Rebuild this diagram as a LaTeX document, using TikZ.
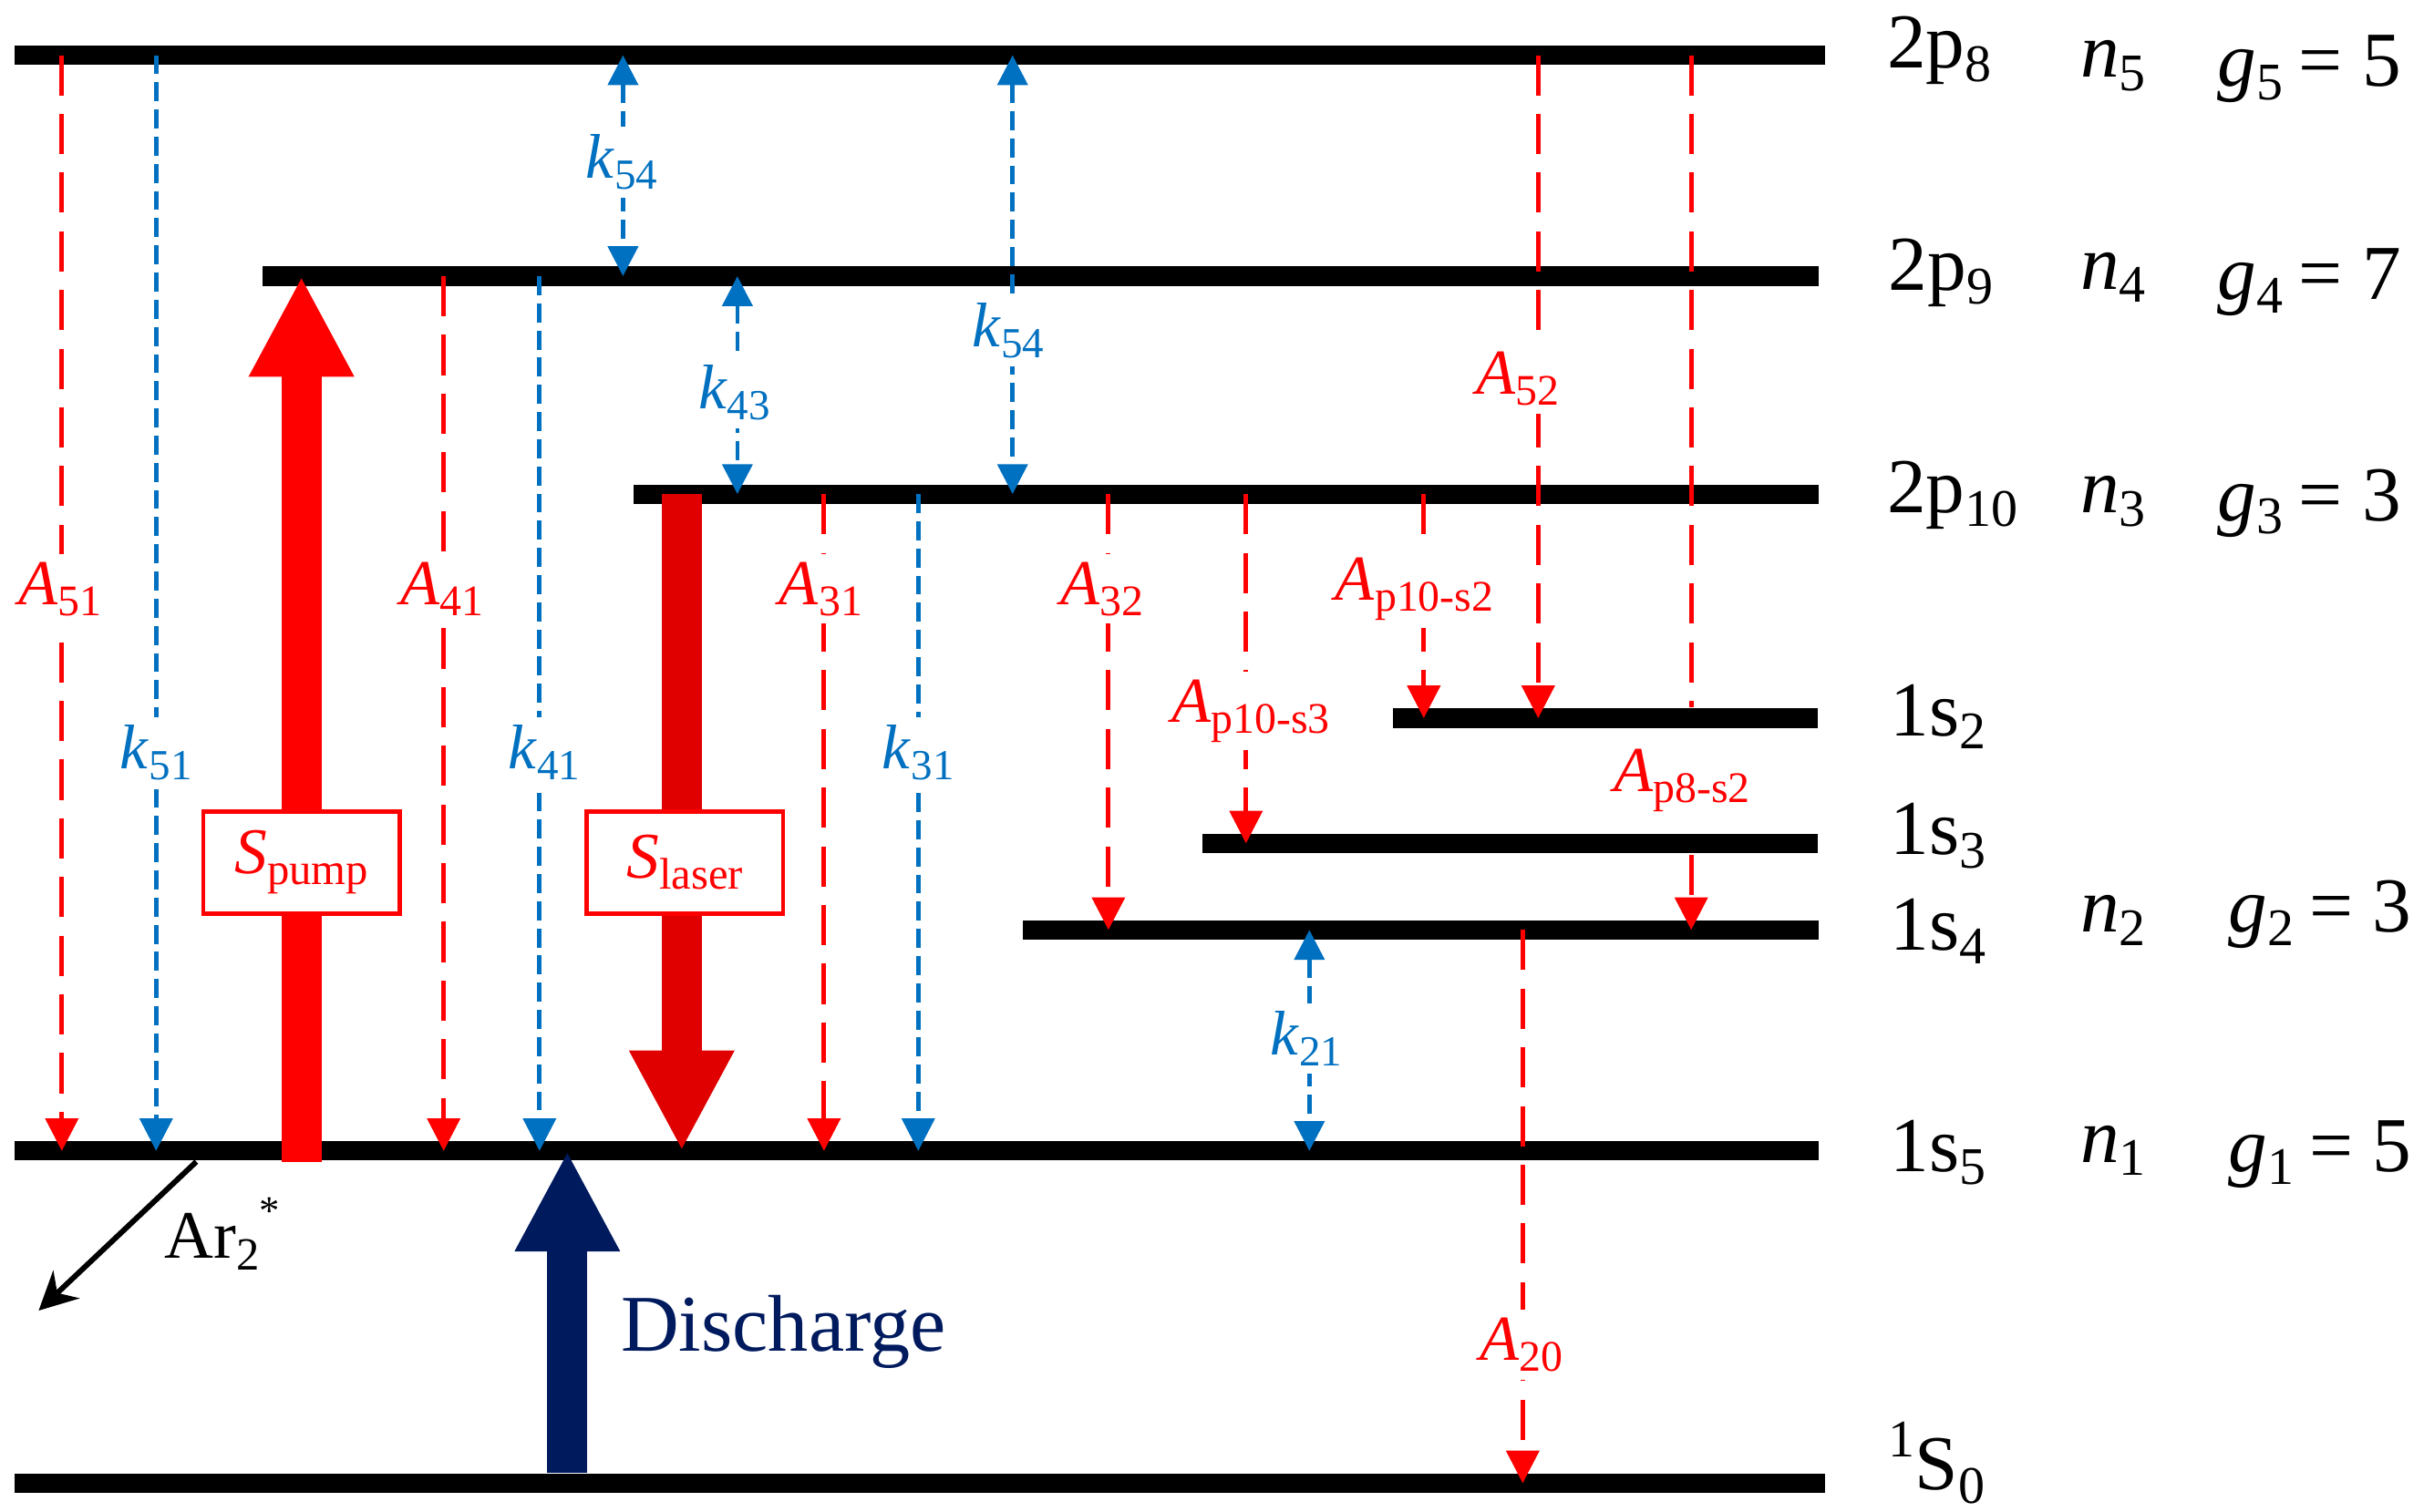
\documentclass[tikz,border=0pt]{standalone}
\usepackage{fontspec}
\setmainfont{Liberation Serif}
\usetikzlibrary{arrows.meta}
\definecolor{MyRed}{HTML}{FF0000}
\definecolor{MyDarkRed}{HTML}{E00000}
\definecolor{MyBlue}{HTML}{0070C0}
\definecolor{MyNavy}{HTML}{001A5E}
\newcommand{\lowsub}[1]{\raisebox{-0.17em}{\scalebox{0.68}{#1}}}
\newcommand{\rate}[2]{\textit{#1}\lowsub{#2}}
\newcommand{\statw}[3]{\rate{#1}{#2}\hspace{0.2em}=\hspace{0.25em}#3}
\tikzset{
    lvl/.style={fill=black,inner sep=0pt,minimum height=0.125cm},
    redplain/.style={draw=MyRed,line width=0.8pt,dash pattern=on 7.4pt off 3.4pt},
    redline/.style={redplain,-{Triangle[width=6pt,length=6pt,fill=MyRed]}},
    blueline/.style={draw=MyBlue,line width=0.8pt,dash pattern=on 3.5pt off 1.5pt,-{Triangle[width=6pt,length=6pt,fill=MyBlue]}},
    bothline/.style={draw=MyBlue,line width=0.8pt,dash pattern=on 3.5pt off 1.5pt,{Triangle[width=5.5pt,length=5.5pt,fill=MyBlue]}-{Triangle[width=5.5pt,length=5.5pt,fill=MyBlue]}},
    bigarrow/.style={line width=7.4pt,-{Triangle[width=18pt,length=18.5pt]}},
    redlab/.style={text=MyRed,fill=white,inner sep=1.5pt,font=\fontsize{11.8}{13}\selectfont},
    bluelab/.style={text=MyBlue,fill=white,inner sep=1.5pt,font=\fontsize{11.6}{13}\selectfont},
    boxlab/.style={draw=MyRed,line width=0.8pt,fill=white,text=MyRed,inner sep=0pt,minimum width=1.27cm,minimum height=0.66cm,font=\fontsize{12}{14}\selectfont},
    rightlab/.style={anchor=base west,inner sep=0pt,font=\fontsize{14.3}{16}\selectfont}
}
\begin{document}
\begin{tikzpicture}[x=0.01cm,y=-0.01cm]
            \useasboundingbox (0,0) rectangle (1568,978.3);

            \node[lvl,minimum width=11.70cm] (pe) at (595,35.7) {};
            \node[lvl,minimum width=10.06cm] (pn) at (673,178.7) {};
            \node[lvl,minimum width=7.66cm] (pt) at (793,319.7) {};
            \node[lvl,minimum width=2.75cm] (st) at (1038.5,464.7) {};
            \node[lvl,minimum width=3.98cm] (sh) at (977,545.7) {};
            \node[lvl,minimum width=5.14cm] (sf) at (919,601.7) {};
            \node[lvl,minimum width=11.66cm] (sv) at (593,744.7) {};
            \node[lvl,minimum width=11.70cm] (gr) at (595,959.7) {};

            \foreach \x/\a/\b in {40/pe/sv,287/pn/sv,533/pt/sv,717/pt/sf,806/pt/sh,921/pt/st,995/pe/st,985/sf/gr}
                \draw[redline] (\x,0 |- \a.center) -- (\x,0 |- \b.center);
            \foreach \x/\a/\b in {101/pe/sv,349/pn/sv,594/pt/sv}
                \draw[blueline] (\x,0 |- \a.center) -- (\x,0 |- \b.center);
            \foreach \x/\a/\b in {403/pe/pn,655/pe/pt,477/pn/pt,847/sf/sv}
                \draw[bothline] (\x,0 |- \a.center) -- (\x,0 |- \b.center);

            \coordinate (apeout) at (1094,553);
            \draw[redplain] (1094,0 |- pe.center) -- (1094,0 |- st.north);
            \draw[redline] (apeout) -- (1094,0 |- sf.center);

            \draw[bigarrow,MyRed] (195,0 |- sv.south) -- (195,0 |- pn.center);
            \draw[bigarrow,MyDarkRed] (441,0 |- pt.center) -- (441,0 |- sv.center);
            \draw[bigarrow,MyNavy] (367,0 |- gr.north) -- (367,0 |- sv.center);
            \coordinate (dimer) at (25,848);
            \draw[line width=1pt,-{Stealth[width=7pt,length=7pt]}] (127,0 |- sv.south) -- (dimer);

            \node[boxlab] (pump) at (195,558) {\rate{S}{pump}};
            \node[boxlab] (laser) at (443,558) {\rate{S}{laser}};

            \node[redlab] (aef) at (39,381) {\rate{A}{51}};
            \node[redlab] (adf) at (286,381) {\rate{A}{41}};
            \node[redlab] (acf) at (531,381) {\rate{A}{31}};
            \node[redlab] (acb) at (713,381) {\rate{A}{32}};
            \node[redlab] (apt) at (915,381) {\rate{A}{p10-s2}};
            \node[redlab] (aph) at (809,460) {\rate{A}{p10-s3}};
            \node[redlab] (aeb) at (982,245) {\rate{A}{52}};
            \node[redlab] (ape) at (1088,505) {\rate{A}{p8-s2}};
            \node[redlab] (aba) at (984,870) {\rate{A}{20}};

            \node[bluelab] (kef) at (101,487) {\rate{k}{51}};
            \node[bluelab] (kdf) at (352,487) {\rate{k}{41}};
            \node[bluelab] (kcf) at (594,487) {\rate{k}{31}};
            \node[bluelab] (ked) at (402,105) {\rate{k}{54}};
            \node[bluelab] (kec) at (652,214) {\rate{k}{54}};
            \node[bluelab] (kdc) at (475,254) {\rate{k}{43}};
            \node[bluelab] (kba) at (845,672) {\rate{k}{21}};

            \node[rightlab,font=\fontsize{12.5}{14}\selectfont] (dimerlab) at (106,814) {Ar\lowsub{2}\raisebox{0.5em}{\scalebox{0.6}{*}}};
            \node[rightlab,text=MyNavy,font=\fontsize{14.8}{16}\selectfont] (disch) at (401,874) {Discharge};

            \node[rightlab] (tpe) at (1220,44) {2p\lowsub{8}};
            \node[rightlab] (tpn) at (1221,188) {2p\lowsub{9}};
            \node[rightlab] (tpt) at (1220,332) {2p\lowsub{10}};
            \node[rightlab] (tst) at (1222,476) {1s\lowsub{2}};
            \node[rightlab] (tsh) at (1222,553) {1s\lowsub{3}};
            \node[rightlab] (tsf) at (1222,615) {1s\lowsub{4}};
            \node[rightlab] (tsv) at (1222,758) {1s\lowsub{5}};
            \node[rightlab] (tgr) at (1221,964) {\raisebox{0.42em}{\scalebox{0.68}{1}}S\lowsub{0}};

            \node[rightlab] (ne) at (1345,50) {\rate{n}{5}};
            \node[rightlab] (nd) at (1345,187) {\rate{n}{4}};
            \node[rightlab] (nc) at (1345,332) {\rate{n}{3}};
            \node[rightlab] (nb) at (1345,603) {\rate{n}{2}};
            \node[rightlab] (na) at (1345,752) {\rate{n}{1}};

            \node[rightlab] (ge) at (1434,56) {\statw{g}{5}{5}};
            \node[rightlab] (gd) at (1434,194) {\statw{g}{4}{7}};
            \node[rightlab] (gc) at (1434,337) {\statw{g}{3}{3}};
            \node[rightlab] (gb) at (1441,603) {\statw{g}{2}{3}};
            \node[rightlab] (ga) at (1441,758) {\statw{g}{1}{5}};
\end{tikzpicture}
\end{document}
